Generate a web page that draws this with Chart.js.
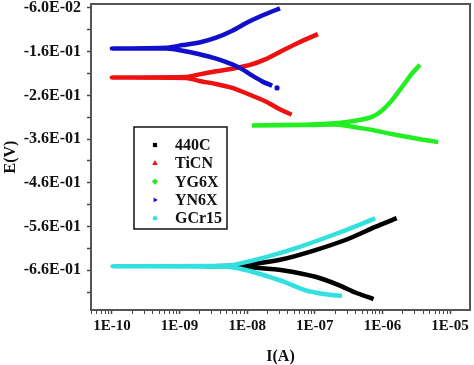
<!DOCTYPE html>
<html>
<head>
<meta charset="utf-8">
<script src="https://cdn.jsdelivr.net/npm/chart.js@4/dist/chart.umd.min.js"></script>
<style>
  body { margin: 0; background: #fff; }
  #wrap { width: 474px; height: 365px; }
</style>
</head>
<body>
<div id="wrap"><canvas id="myChart" width="474" height="365"></canvas></div>
<script>
// series names (legend order)
const names = ["440C", "TiCN", "YG6X", "YN6X", "GCr15"];
const colors = ["#000000", "#ee1111", "#22ee22", "#1010cc", "#33e0e0"];

// current I (A) and potential E (V)
// each path: cathodic end -> Ecorr -> flat noise part -> anodic end
// (null = break in the line)
const i440C = [7.38e-7, 3.97e-7, 2.26e-7, 1.02e-7, 3.31e-8, 1.5e-8, 6.0e-9, 2.5e-9, 6.0e-9, 1.07e-8, 3.31e-8, 1.02e-7, 3.16e-7, 7.81e-7, 1.62e-6];
const e440C = [-0.726, -0.711, -0.694, -0.675, -0.660, -0.655, -0.651, -0.651, -0.650, -0.647, -0.635, -0.614, -0.588, -0.561, -0.541];

const iTiCN = [4.54e-8, 2.96e-8, 1.88e-8, 1.07e-8, 6.0e-9, 3.47e-9, 1.97e-9, 1.26e-9, 1.0e-10, 1.26e-9, 1.97e-9, 3.47e-9, 6.0e-9, 1.07e-8, 1.88e-8, 3.27e-8, 5.82e-8, 1.11e-7];
const eTiCN = [-0.304, -0.291, -0.274, -0.258, -0.243, -0.234, -0.227, -0.220, -0.219, -0.218, -0.212, -0.205, -0.199, -0.191, -0.177, -0.158, -0.139, -0.120];

const iYG6X = [6.67e-6, 3.79e-6, 2.16e-6, 1.22e-6, 6.97e-7, 3.97e-7, 2.26e-7, 7.3e-8, 1.17e-8, 7.3e-8, 2.26e-7, 3.97e-7, 6.97e-7, 9.77e-7, 1.37e-6, 1.92e-6, 2.7e-6, 3.58e-6];
const eYG6X = [-0.367, -0.361, -0.354, -0.347, -0.339, -0.333, -0.327, -0.328, -0.329, -0.327, -0.323, -0.318, -0.309, -0.295, -0.272, -0.242, -0.211, -0.190];

const iYN6X = [2.76e-8, 2.76e-8, 2.34e-8, 1.66e-8, 1.19e-8, 8.4e-9, 6.0e-9, 3.47e-9, 1.97e-9, 1.11e-9, 6.4e-10, 1.0e-10, 6.4e-10, 1.11e-9, 1.97e-9, 3.47e-9, 6.0e-9, 1.07e-8, 1.88e-8, 3.05e-8];
const eYN6X = [-0.243, null, -0.238, -0.228, -0.215, -0.200, -0.189, -0.176, -0.166, -0.158, -0.153, -0.153, -0.151, -0.145, -0.139, -0.128, -0.112, -0.091, -0.074, -0.061];

const iGCr15 = [2.52e-7, 1.44e-7, 7.3e-8, 3.31e-8, 1.5e-8, 7.6e-9, 4.87e-9, 1.02e-10, 4.87e-9, 7.6e-9, 1.88e-8, 5.82e-8, 1.8e-7, 4.43e-7, 7.81e-7];
const eGCr15 = [-0.719, -0.715, -0.706, -0.685, -0.668, -0.656, -0.652, -0.651, -0.650, -0.645, -0.630, -0.607, -0.580, -0.557, -0.541];

// axis ticks
const xDecades = [-10, -9, -8, -7, -6, -5];
const yLabelTicks = [-0.06, -0.16, -0.26, -0.36, -0.46, -0.56, -0.66];
const yMinorTicks = [-0.11, -0.21, -0.31, -0.41, -0.51, -0.61, -0.71];

const currents = [i440C, iTiCN, iYG6X, iYN6X, iGCr15];
const potentials = [e440C, eTiCN, eYG6X, eYN6X, eGCr15];

const xMin = Math.pow(10, -10.31);
const xMax = Math.pow(10, -4.706);
const yMin = -0.751;
const yMax = -0.051;

const sci = (v, digits) => {
  const [m, e] = v.toExponential(digits).split("e");
  const n = parseInt(e, 10);
  return m + "E" + (n < 0 ? "-" : "+") + String(Math.abs(n)).padStart(2, "0");
};

const tickFont = { family: "'Liberation Serif', 'Times New Roman', serif", weight: "bold" };

// a point with breaks on both sides is drawn as a dot
const dotRadius = (c) => {
  const d = c.dataset.data;
  const i = c.dataIndex;
  if (!d[i] || d[i].y === null) return 0;
  const before = i === 0 || d[i - 1].y === null;
  const after = i === d.length - 1 || d[i + 1].y === null;
  return before && after ? 2.6 : 0;
};

const datasets = names.map((name, k) => ({
  label: name,
  data: currents[k].map((c, j) => ({ x: c, y: potentials[k][j] })),
  showLine: true,
  spanGaps: false,
  borderColor: colors[k],
  backgroundColor: colors[k],
  borderWidth: 4.5,
  pointRadius: dotRadius,
  pointBorderWidth: 0,
  tension: 0.2,
  order: names.length - k, // later series drawn on top
}));

const markerStyles = [
  { pointStyle: "rect", rotation: 0, radius: 3 },
  { pointStyle: "triangle", rotation: 0, radius: 3.2 },
  { pointStyle: "rectRot", rotation: 0, radius: 3.2 },
  { pointStyle: "triangle", rotation: 90, radius: 2.8 },
  { pointStyle: "circle", rotation: 0, radius: 2.3 },
];

// legend box inside the plot area
const legendBox = {
  id: "legendBox",
  afterDatasetsDraw(chart) {
    const { ctx, chartArea } = chart;
    const bx = chartArea.left + 43;
    const by = chartArea.top + 123;
    const bw = 93;
    const bh = 102;
    ctx.save();
    ctx.fillStyle = "#fff";
    ctx.fillRect(bx, by, bw, bh);
    ctx.lineWidth = 1.5;
    ctx.strokeStyle = "#111";
    ctx.strokeRect(bx, by, bw, bh);
    ctx.font = "bold 16px 'Liberation Serif', 'Times New Roman', serif";
    ctx.textBaseline = "middle";
    names.forEach((name, k) => {
      const y = by + 18 + k * 18.3;
      ctx.fillStyle = colors[k];
      ctx.strokeStyle = colors[k];
      Chart.helpers.drawPoint(ctx, Object.assign({ borderWidth: 0 }, markerStyles[k]), bx + 21, y);
      ctx.fillStyle = "#111";
      ctx.fillText(name, bx + 41, y + 1);
    });
    ctx.restore();
  },
};

// top and right frame lines
const frame = {
  id: "frame",
  beforeDatasetsDraw(chart) {
    const { ctx, chartArea } = chart;
    ctx.save();
    ctx.strokeStyle = "#555";
    ctx.lineWidth = 2;
    ctx.beginPath();
    ctx.moveTo(chartArea.left, chartArea.top);
    ctx.lineTo(chartArea.right, chartArea.top);
    ctx.lineTo(chartArea.right, chartArea.bottom);
    ctx.stroke();
    ctx.restore();
  },
};

const config = {
  type: "scatter",
  data: { datasets },
  options: {
    responsive: false,
    animation: false,
    layout: { padding: { top: 3, right: 2, left: 0, bottom: 0 } },
    plugins: {
      legend: { display: false },
      tooltip: { enabled: false },
    },
    scales: {
      x: {
        type: "logarithmic",
        min: xMin,
        max: xMax,
        bounds: "data",
        afterBuildTicks: (scale) => {
          const ticks = [];
          for (let d = -11; d <= -5; d++) {
            for (let m = 1; m <= 9; m++) {
              const v = m * Math.pow(10, d);
              if (v >= xMin && v <= xMax) ticks.push({ value: v, major: m === 1 });
            }
          }
          scale.ticks = ticks;
        },
        afterFit: (scale) => {
          scale.height = 55;
          scale.paddingLeft = 0;
          scale.paddingRight = 0;
        },
        ticks: {
          autoSkip: false,
          maxRotation: 0,
          padding: 3,
          color: "#111",
          font: Object.assign({ size: 15 }, tickFont),
          callback: (v) => {
            const lg = Math.log10(v);
            return Math.abs(lg - Math.round(lg)) < 1e-6 && xDecades.includes(Math.round(lg))
              ? sci(v, 0) : "";
          },
        },
        grid: {
          drawOnChartArea: false,
          drawTicks: true,
          tickLength: 4,
          tickColor: "#444",
          tickWidth: (c) => (c.tick && c.tick.major ? 1.5 : 1),
        },
        border: { display: true, color: "#555", width: 2 },
        title: {
          display: true,
          text: "I(A)",
          color: "#111",
          font: Object.assign({ size: 16, lineHeight: 1 }, tickFont),
          padding: { top: 0, bottom: 0 },
        },
      },
      y: {
        type: "linear",
        min: yMin,
        max: yMax,
        afterBuildTicks: (scale) => {
          const all = yLabelTicks.concat(yMinorTicks).sort((a, b) => b - a);
          scale.ticks = all.map((v) => ({ value: v }));
        },
        afterFit: (scale) => {
          scale.width = 91;
          scale.paddingTop = 0;
          scale.paddingBottom = 0;
        },
        ticks: {
          autoSkip: false,
          padding: 6,
          color: "#111",
          font: Object.assign({ size: 16 }, tickFont),
          callback: (v) => (yLabelTicks.some((t) => Math.abs(t - v) < 1e-6) ? sci(v, 1) : ""),
        },
        grid: {
          drawOnChartArea: false,
          drawTicks: true,
          tickLength: 4,
          tickColor: "#444",
          tickWidth: 1.5,
        },
        border: { display: true, color: "#555", width: 2 },
        title: {
          display: true,
          text: "E(V)",
          color: "#111",
          font: Object.assign({ size: 16, lineHeight: 1.2 }, tickFont),
          padding: { top: 1, bottom: 0 },
        },
      },
    },
  },
  plugins: [frame, legendBox],
};

new Chart(document.getElementById("myChart"), config);
</script>
</body>
</html>
